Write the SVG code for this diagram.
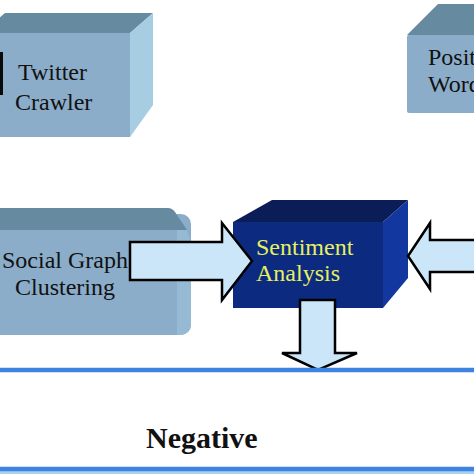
<svg xmlns="http://www.w3.org/2000/svg" width="474" height="474" viewBox="0 0 474 474">
<style>
.front{fill:#8badca}
.top{fill:#668a9f}
.side{fill:#a7cde3}
.lbl{font-family:"Liberation Serif","Times New Roman",serif;font-size:24px;fill:#111}
.sent{font-family:"Liberation Serif","Times New Roman",serif;font-size:24px;fill:#e6f062}
.arrow{fill:#cbe6f8;stroke:#000;stroke-width:2.5;stroke-linejoin:miter}
.rule{stroke:#3d84e2;stroke-width:4.5}
</style>
<rect width="474" height="474" fill="#fff"/>
<g id="twitter-crawler">
<polygon class="top" points="-18,33 5,13 153,13 130,33"/>
<polygon class="side" points="130,33 153,13 153,105 130,137"/>
<rect class="front" x="-18" y="33" width="148" height="104"/>
<rect x="0" y="52" width="3" height="43" fill="#0a0a0a"/>
<text class="lbl" x="18" y="80">Twitter</text>
<text class="lbl" x="15" y="110">Crawler</text>
</g>
<g id="positive-words">
<polygon class="top" points="407,35 438,4 480,4 480,35"/>
<rect class="front" x="407" y="35" width="70" height="78" rx="2"/>
<text class="lbl" x="428" y="65">Positive</text>
<text class="lbl" x="428" y="92">Words</text>
</g>
<g id="social-graph-clustering">
<rect class="front" x="-20" y="214" width="211" height="121" rx="10" fill-opacity="1"/>
<path class="top" d="M-20,208 L168,208 Q172,208 175,212 L187,230 L-20,230 Z"/>
<path d="M177,230 L187,230 Q191,240 191,250 L191,322 Q191,334 180,335 L177,335 Z" fill="#96b9d4"/>
<text class="lbl" x="2" y="268">Social Graph</text>
<text class="lbl" x="15" y="295">Clustering</text>
</g>
<g id="sentiment-analysis">
<polygon points="233,222 272,200 408,200 383,222" fill="#0a1d56"/>
<polygon points="383,222 408,200 408,278 383,308" fill="#1238a0"/>
<rect x="233" y="222" width="150" height="86" fill="#0b2a80"/>
</g>
<g id="connectors">
<polygon class="arrow" points="130,242 222,242 222,223 252,261 222,300 222,280 130,280"/>
<polygon class="arrow" points="480,240 430,240 430,223 408,256 430,289 430,272 480,272"/>
<polygon class="arrow" points="300,300 335,300 335,353 357,353 318,370 282,353 300,353"/>
</g>
<g id="sentiment-label">
<text class="sent" x="256" y="255">Sentiment</text>
<text class="sent" x="256" y="281">Analysis</text>
</g>
<g id="negative-band">
<line class="rule" x1="0" y1="370" x2="474" y2="370"/>
<rect x="0" y="471" width="474" height="3" fill="#a9d0f0"/>
<line class="rule" x1="0" y1="469" x2="474" y2="469"/>
<text x="146" y="448" font-family="'Liberation Serif','Times New Roman',serif" font-size="30" font-weight="bold" fill="#111">Negative</text>
</g>
</svg>
